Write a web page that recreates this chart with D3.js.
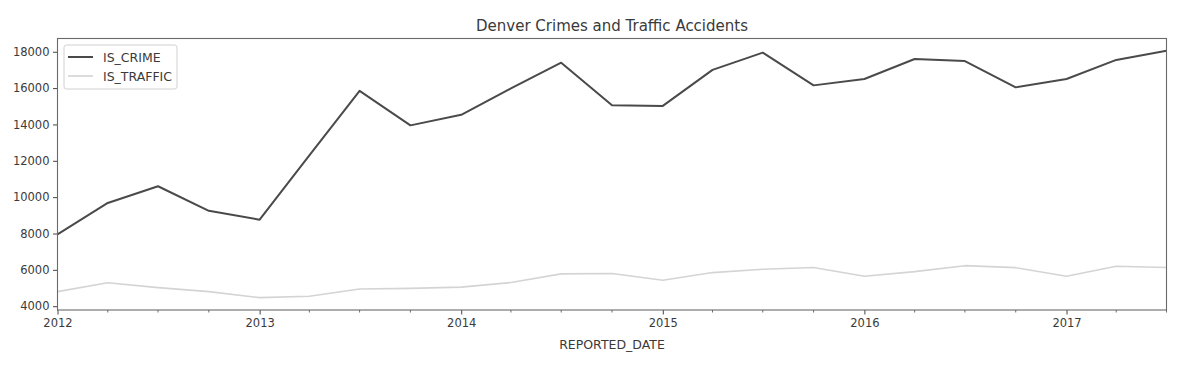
<!DOCTYPE html>
<html>
<head>
<meta charset="utf-8">
<script src="https://cdn.jsdelivr.net/npm/d3@7"></script>
<style>
  html, body { margin: 0; padding: 0; background: #fff; }
  svg { display: block; font-family: "DejaVu Sans", sans-serif; }
</style>
</head>
<body>
<svg id="chart" width="1180" height="365"></svg>
<script>
// ---- data ----
const quarters = [
  "2012-01-01","2012-04-01","2012-07-01","2012-10-01",
  "2013-01-01","2013-04-01","2013-07-01","2013-10-01",
  "2014-01-01","2014-04-01","2014-07-01","2014-10-01",
  "2015-01-01","2015-04-01","2015-07-01","2015-10-01",
  "2016-01-01","2016-04-01","2016-07-01","2016-10-01",
  "2017-01-01","2017-04-01","2017-07-01"
];
const isCrime = [
  7950, 9680, 10600, 9250,
  8760, 12300, 15850, 13950,
  14530, 15980, 17400, 15060,
  15020, 17000, 17950, 16150,
  16500, 17600, 17490, 16040,
  16500, 17550, 18050
];
const isTraffic = [
  4800, 5290, 5020, 4800,
  4470, 4550, 4950, 4980,
  5050, 5300, 5780, 5800,
  5430, 5850, 6030, 6130,
  5650, 5900, 6230, 6120,
  5650, 6200, 6130
];
const yTickValues = [4000, 6000, 8000, 10000, 12000, 14000, 16000, 18000];
const seriesNames = ["IS_CRIME", "IS_TRAFFIC"];
const titleText = "Denver Crimes and Traffic Accidents";
const xLabelText = "REPORTED_DATE";

// ---- layout ----
const plot = { left: 57.5, right: 1166.5, top: 38.5, bottom: 310 };
const svg = d3.select("#chart");
const parse = d3.timeParse("%Y-%m-%d");
const dates = quarters.map(parse);

const x = d3.scaleTime()
  .domain(d3.extent(dates))
  .range([plot.left, plot.right]);

const allVals = isCrime.concat(isTraffic);
const vmin = d3.min(allVals), vmax = d3.max(allVals);
const pad = (vmax - vmin) * 0.05;
const y = d3.scaleLinear()
  .domain([vmin - pad, vmax + pad])
  .range([plot.bottom, plot.top]);

const textColor = "#3a3a3a";
const fontSize = "11.5px";
const labelSize = "12.5px";

// lines
const line = d3.line().x((d, i) => x(dates[i])).y(d => y(d));
svg.append("path").datum(isTraffic)
  .attr("fill", "none").attr("stroke", "#d4d4d4").attr("stroke-width", 1.6)
  .attr("stroke-linejoin", "round").attr("d", line);
svg.append("path").datum(isCrime)
  .attr("fill", "none").attr("stroke", "#4a4a4a").attr("stroke-width", 2)
  .attr("stroke-linejoin", "round").attr("d", line);

// y axis
const yAxis = d3.axisLeft(y).tickValues(yTickValues).tickSize(4.5).tickPadding(3.5)
  .tickFormat(d3.format("d"));
const gy = svg.append("g").attr("transform", `translate(${plot.left},0)`).call(yAxis);
gy.select(".domain").remove();
gy.selectAll("line").attr("stroke", "#444");
gy.selectAll("text").attr("fill", textColor).style("font-size", fontSize)
  .style("font-family", "'DejaVu Sans', sans-serif");

// x axis: major ticks at years, minor at quarters
const yearTicks = dates.filter(d => d.getMonth() === 0);
const xAxis = d3.axisBottom(x).tickValues(yearTicks).tickSize(4.5).tickPadding(4)
  .tickFormat(d3.timeFormat("%Y"));
const gx = svg.append("g").attr("transform", `translate(0,${plot.bottom})`).call(xAxis);
gx.select(".domain").remove();
gx.selectAll("line").attr("stroke", "#444");
gx.selectAll("text").attr("fill", textColor).style("font-size", fontSize)
  .style("font-family", "'DejaVu Sans', sans-serif");

const minorTicks = dates.filter(d => d.getMonth() !== 0);
svg.append("g").selectAll("line").data(minorTicks).join("line")
  .attr("x1", d => x(d)).attr("x2", d => x(d))
  .attr("y1", plot.bottom).attr("y2", plot.bottom + 2.5)
  .attr("stroke", "#444").attr("stroke-width", 0.8);

// frame
svg.append("rect")
  .attr("x", plot.left).attr("y", plot.top)
  .attr("width", plot.right - plot.left).attr("height", plot.bottom - plot.top)
  .attr("fill", "none").attr("stroke", "#6a6a6a").attr("stroke-width", 1.1);

// title and axis label
svg.append("text").attr("x", (plot.left + plot.right) / 2).attr("y", 31)
  .attr("text-anchor", "middle").attr("fill", textColor)
  .style("font-size", "15px").text(titleText);
svg.append("text").attr("x", (plot.left + plot.right) / 2).attr("y", 349)
  .attr("text-anchor", "middle").attr("fill", textColor)
  .style("font-size", labelSize).text(xLabelText);

// legend
const lg = svg.append("g");
lg.append("rect").attr("x", 64).attr("y", 45).attr("width", 113).attr("height", 44)
  .attr("rx", 2.5).attr("fill", "#fff").attr("stroke", "#d0d0d0").attr("stroke-width", 1);
const legendColors = ["#4a4a4a", "#d4d4d4"];
const legendWidths = [2, 1.6];
seriesNames.forEach((name, i) => {
  const ly = 57 + i * 19;
  lg.append("line").attr("x1", 68).attr("x2", 93).attr("y1", ly).attr("y2", ly)
    .attr("stroke", legendColors[i]).attr("stroke-width", legendWidths[i]);
  lg.append("text").attr("x", 103).attr("y", ly + 4.5).attr("fill", textColor)
    .style("font-size", labelSize).text(name);
});
</script>
</body>
</html>
